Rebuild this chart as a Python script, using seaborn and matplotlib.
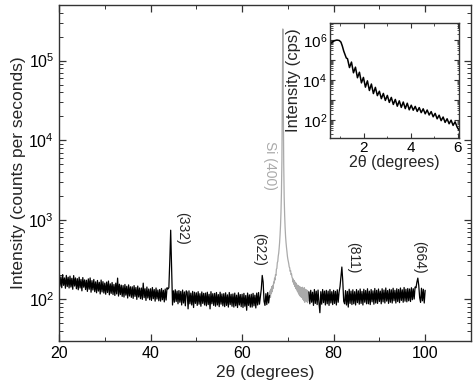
import numpy as np
import matplotlib
matplotlib.use("Agg")
import matplotlib.pyplot as plt
import seaborn as sns
from matplotlib.ticker import MultipleLocator, LogLocator, FuncFormatter, NullFormatter

# ---- main XRD scan (2theta, cps) ----
# black part before the Si peak, 20.0 .. 66.0 deg, 0.2 deg step
scan1_start, scan1_end = 20.0, 66.0
scan1_counts = [
    198, 146, 192, 140, 205, 150, 186, 138, 200, 145,
    190, 139, 196, 143, 184, 134, 199, 147, 186, 136,
    182, 132, 190, 139, 178, 128, 188, 142, 176, 133,
    174, 126, 181, 134, 186, 123, 172, 131, 178, 125,
    166, 121, 173, 127, 164, 117, 175, 124, 167, 120,
    160, 116, 165, 122, 170, 114, 157, 119, 163, 115,
    154, 112, 160, 117, 185, 110, 155, 115, 151, 109,
    149, 107, 154, 113, 146, 104, 152, 110, 144, 106,
    144, 103, 149, 109, 141, 100, 147, 107, 139, 102,
    139, 100, 160, 105, 136, 97, 143, 104, 135, 99,
    136, 97, 141, 102, 133, 95, 139, 101, 131, 96,
    133, 95, 137, 99, 130, 93, 135, 98, 140, 135,
    140, 300, 740, 260, 85, 128, 92, 132, 94, 127,
    88, 129, 92, 126, 85, 131, 90, 124, 83, 128,
    123, 76, 128, 88, 120, 85, 126, 79, 123, 89,
    121, 84, 125, 87, 118, 82, 124, 89, 119, 85,
    120, 83, 123, 86, 116, 76, 125, 88, 118, 84,
    119, 82, 122, 85, 115, 81, 123, 87, 117, 83,
    118, 81, 121, 84, 114, 80, 122, 86, 116, 82,
    117, 80, 120, 83, 113, 79, 121, 85, 115, 81,
    116, 79, 119, 82, 112, 73, 120, 84, 114, 80,
    116, 80, 119, 83, 113, 78, 120, 85, 122, 87,
    108, 135, 200, 165, 95, 84, 118, 86, 122, 90,
    112,
]

# Si (400) substrate reflection, 66.0 .. 74.6 deg, 0.1 deg step
si_start, si_end = 66.0, 74.6
si_counts = [
    112, 128, 106, 135, 118, 145, 125, 150, 138, 165,
    160, 185, 175, 205, 200, 240, 245, 290, 300, 350,
    380, 440, 520, 650, 850, 1250, 2200, 5500, 40000, 250000,
    30000, 5000, 1900, 1150, 800, 620, 520, 450, 400, 350,
    320, 300, 280, 255, 250, 225, 230, 205, 210, 190,
    185, 165, 180, 155, 172, 146, 165, 138, 160, 132,
    152, 126, 150, 120, 147, 114, 144, 110, 142, 107,
    140, 105, 142, 100, 137, 96, 140, 92, 134, 98,
    132, 94, 130, 91, 127, 96, 124,
]

# black part after the Si peak, 74.6 .. 100.0 deg, 0.2 deg step
scan2_start, scan2_end = 74.6, 100.0
scan2_counts = [
    124, 88, 130, 92, 123, 84, 133, 89, 127, 86,
    131, 90, 68, 125, 87, 133, 91, 127, 85, 130,
    88, 127, 84, 133, 90, 125, 86, 130, 89, 126,
    85, 132, 92, 124, 145, 195, 255, 170, 95, 88,
    129, 85, 126, 80, 134, 89, 127, 86, 132, 88,
    125, 85, 133, 91, 128, 87, 135, 89, 126, 85,
    134, 92, 129, 88, 136, 88, 127, 86, 133, 93,
    128, 87, 137, 90, 130, 89, 135, 94, 127, 88,
    136, 93, 131, 90, 139, 95, 129, 89, 134, 92,
    132, 90, 138, 96, 130, 90, 136, 94, 133, 91,
    139, 97, 132, 92, 141, 95, 134, 93, 137, 96,
    135, 94, 140, 99, 136, 101, 143, 140, 165, 185,
    150, 105, 92, 138, 96, 134, 90, 130,
]

peak_labels = ["(332)", "(622)", "(811)", "(664)"]
peak_label_pos = [46.9, 63.7, 84.3, 98.7]
peak_label_height = [790, 430, 336, 336]
si_label = "Si (400)"

# ---- inset: low angle reflectivity ----
xrr_theta = [
    0.55, 0.65, 0.75, 0.85, 0.95, 1.02, 1.08, 1.14, 1.20, 1.25,
    1.300, 1.385, 1.470, 1.555, 1.640, 1.725, 1.810, 1.895, 1.980, 2.065,
    2.150, 2.235, 2.320, 2.405, 2.490, 2.575, 2.660, 2.745, 2.830, 2.915,
    3.000, 3.085, 3.170, 3.255, 3.340, 3.425, 3.510, 3.595, 3.680, 3.765,
    3.850, 3.935, 4.020, 4.105, 4.190, 4.275, 4.360, 4.445, 4.530, 4.615,
    4.700, 4.785, 4.870, 4.955, 5.040, 5.125, 5.210, 5.295, 5.380, 5.465,
    5.550, 5.635, 5.720, 5.805, 5.890, 5.975, 6.05,
]
xrr_counts = [
    6.3e5, 7.9e5, 9.3e5, 1.0e6, 9.5e5, 7.9e5, 5.0e5, 2.8e5, 1.8e5, 1.26e5,
    1.17e5, 4.2e4, 7.9e4, 2.3e4, 4.4e4, 1.3e4, 2.45e4, 7.2e3, 1.35e4, 4.4e3,
    9.1e3, 3.0e3, 6.3e3, 2.1e3, 4.3e3, 1.66e3, 2.75e3, 1.17e3, 2.14e3, 955,
    1.7e3, 760, 1350, 600, 1070, 490, 910, 427, 794, 372,
    692, 324, 550, 309, 479, 269, 417, 234, 363, 204,
    316, 178, 263, 145, 214, 115, 174, 93, 141, 76,
    115, 65, 98, 54, 81, 45, 32,
]

sns.set_theme(style="ticks")
plt.rcParams["font.family"] = ["Liberation Sans", "DejaVu Sans"]
plt.rcParams["mathtext.default"] = "regular"

scan1_theta = np.linspace(scan1_start, scan1_end, len(scan1_counts))
si_theta = np.linspace(si_start, si_end, len(si_counts))
scan2_theta = np.linspace(scan2_start, scan2_end, len(scan2_counts))

fig = plt.figure(figsize=(4.74, 3.84), dpi=100)
ax = fig.add_axes([0.1245, 0.112, 0.869, 0.875])

sns.lineplot(x=si_theta, y=si_counts, ax=ax, color="#aaaaaa", linewidth=0.9,
             estimator=None, sort=False)
sns.lineplot(x=scan1_theta, y=scan1_counts, ax=ax, color="black", linewidth=0.9,
             estimator=None, sort=False)
sns.lineplot(x=scan2_theta, y=scan2_counts, ax=ax, color="black", linewidth=0.9,
             estimator=None, sort=False)

ax.set_yscale("log")
ax.set_xlim(20, 110)
ax.set_ylim(30, 5e5)
ax.xaxis.set_major_locator(MultipleLocator(20))
ax.xaxis.set_minor_locator(MultipleLocator(10))
ax.yaxis.set_major_locator(LogLocator(base=10))
ax.yaxis.set_minor_locator(LogLocator(base=10, subs=np.arange(2, 10)))
ax.yaxis.set_minor_formatter(NullFormatter())
ax.tick_params(which="both", direction="in", top=True, right=True,
               labelsize=11.5, colors="#333333", labelcolor="black")
ax.tick_params(which="major", length=5, width=0.9)
ax.tick_params(which="minor", length=3, width=0.7)
for s in ax.spines.values():
    s.set_color("#333333")
    s.set_linewidth(1.0)
ax.set_xlabel("2θ (degrees)", fontsize=12.5, labelpad=3)
ax.set_ylabel("Intensity (counts per seconds)", fontsize=12.5, labelpad=2)

for lab, px, py in zip(peak_labels, peak_label_pos, peak_label_height):
    ax.text(px, py, lab, rotation=270, ha="center", va="center", fontsize=10)
ax.text(66.1, 4750, si_label, rotation=270, ha="center", va="center",
        fontsize=10, color="#aaaaaa")

# inset
axi = fig.add_axes([0.696, 0.6406, 0.272, 0.2994])
sns.lineplot(x=xrr_theta, y=xrr_counts, ax=axi, color="black", linewidth=1.1,
             estimator=None, sort=False)
axi.set_yscale("log")
axi.set_xlim(0.55, 6.05)
axi.set_ylim(10 ** 1.1, 10 ** 6.85)
axi.xaxis.set_major_locator(MultipleLocator(2))
axi.xaxis.set_minor_locator(MultipleLocator(1))
axi.yaxis.set_major_locator(LogLocator(base=10, numticks=10))
axi.yaxis.set_minor_locator(LogLocator(base=10, subs=np.arange(2, 10), numticks=10))
axi.yaxis.set_minor_formatter(NullFormatter())


def even_decades(v, _pos):
    e = int(round(np.log10(v)))
    return f"$10^{{{e}}}$" if e % 2 == 0 else ""


axi.yaxis.set_major_formatter(FuncFormatter(even_decades))
axi.tick_params(which="both", direction="in", top=True, right=True,
                labelsize=11, pad=2, colors="#333333", labelcolor="black")
axi.tick_params(which="major", length=3.5, width=0.8)
axi.tick_params(which="minor", length=1.8, width=0.6)
for s in axi.spines.values():
    s.set_color("#333333")
    s.set_linewidth(1.0)
axi.set_xlabel("2θ (degrees)", fontsize=11.5, labelpad=0)
axi.set_ylabel("Intensity (cps)", fontsize=12, labelpad=1)

fig.savefig("out.png", dpi=100)
